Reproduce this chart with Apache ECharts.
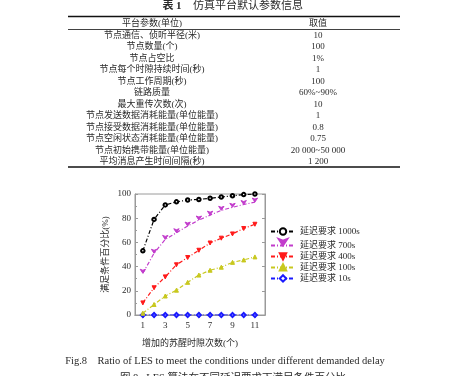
<!DOCTYPE html>
<html>
<head>
<meta charset="utf-8">
<script src="https://cdn.jsdelivr.net/npm/echarts@6/dist/echarts.min.js"></script>
<style>
html,body{margin:0;padding:0;background:#fff;}
#c{width:474px;height:376px;}
</style>
</head>
<body>
<div id="c"></div>
<script>
// ---- data ----
const xValues = [1, 2, 3, 4, 5, 6, 7, 8, 9, 10, 11];
const xTickLabels = [1, 3, 5, 7, 9, 11];
const seriesNames = ['延迟要求 1000s', '延迟要求 700s', '延迟要求 400s', '延迟要求 100s', '延迟要求 10s'];
const delay1000 = [53, 79, 91, 93.5, 95, 95.5, 96.5, 97.5, 98.5, 99.5, 100];
const delay700 = [34.5, 51, 62.5, 68, 73.5, 78.5, 82.5, 86.5, 89, 91.3, 93.3];
const delay400 = [10, 22.5, 31.5, 41.5, 47.5, 53.5, 59.5, 63.5, 67, 71.5, 75];
const delay100 = [1.5, 8.7, 15.7, 20.5, 27, 33, 37, 39.5, 43.5, 45.5, 48];
const delay10 = [0, 0, 0, 0, 0, 0, 0, 0, 0, 0, 0];
const yTicks = [0, 20, 40, 60, 80, 100];

const tableTitleNo = '表 1';
const tableTitle = '仿真平台默认参数信息';
const tableHeader = ['平台参数(单位)', '取值'];
const paramNames = ['节点通信、侦听半径(米)', '节点数量(个)', '节点占空比', '节点每个时隙持续时间(秒)', '节点工作周期(秒)', '链路质量', '最大重传次数(次)', '节点发送数据消耗能量(单位能量)', '节点接受数据消耗能量(单位能量)', '节点空闲状态消耗能量(单位能量)', '节点初始携带能量(单位能量)', '平均消息产生时间间隔(秒)'];
const paramValues = ['10', '100', '1%', '1', '100', '60%~90%', '10', '1', '0.8', '0.75', '20 000~50 000', '1 200'];
const yAxisTitle = '满足条件百分比(%)';
const xAxisTitle = '增加的苏醒时隙次数(个)';
const captionEn = 'Fig.8    Ratio of LES to meet the conditions under different demanded delay';
const captionZh = '图 8   LES 算法在不同延迟要求下满足条件百分比';

// ---- styles ----
const FONT = '"Liberation Serif", "Noto Sans CJK SC", serif';
const TXT = '#2a2a2a';
const colors = ['#000000', '#c23ccc', '#ff1a1a', '#c8c81e', '#1a1aff'];
const symbols = ['emptyCircle', 'arrow', 'triangle', 'triangle', 'emptyDiamond'];
const rotates = [0, 180, 180, 0, 0];
const sizes = [3.5, 4, 4, 4, 4];
const allData = [delay1000, delay700, delay400, delay100, delay10];

const chart = echarts.init(document.getElementById('c'), null, {renderer: 'canvas'});

const graphics = [];
function txt(t, x, y, size, opts) {
  opts = opts || {};
  graphics.push({
    type: 'text', x: x, y: y, silent: true,
    style: {
      text: t, fontSize: size, fontFamily: FONT, fill: opts.fill || TXT,
      fontWeight: opts.bold ? 'bold' : 'normal',
      align: opts.align || 'center', verticalAlign: opts.va || 'middle'
    }
  });
}
function hline(x1, x2, y, w) {
  graphics.push({type: 'line', silent: true, shape: {x1: x1, y1: y, x2: x2, y2: y}, style: {stroke: '#111', lineWidth: w}});
}

// table
txt(tableTitleNo, 172, 6, 11, {bold: true});
txt(tableTitle, 193, 6, 11, {align: 'left'});
hline(68, 400, 16.5, 1.6);
txt(tableHeader[0], 152, 23.5, 9);
txt(tableHeader[1], 318, 23.5, 9);
hline(68, 400, 29.5, 0.8);
paramNames.forEach(function (n, i) {
  const y = 35.3 + i * 11.5;
  txt(n, 152, y, 9);
  txt(paramValues[i], 318, y, 9);
});
hline(68, 400, 167, 1.6);

// axis titles and captions
txt(xAxisTitle, 190, 344, 9);
txt(captionEn, 225, 361, 10.5);
txt(captionZh, 233, 373, 10.5, {va: 'top'});

const series = allData.map(function (d, i) {
  return {
    name: seriesNames[i],
    type: 'line',
    data: xValues.map(function (x, j) { return [x, d[j]]; }),
    symbol: symbols[i],
    symbolRotate: rotates[i],
    symbolSize: sizes[i],
    showAllSymbol: true,
    z: 10 - i,
    lineStyle: {color: colors[i], width: 1.2, type: [4, 2, 1, 2]},
    itemStyle: {color: colors[i], borderColor: colors[i], borderWidth: i === 0 || i === 4 ? 2 : 1},
    emphasis: {disabled: true},
    animation: false
  };
});

const option = {
  animation: false,
  backgroundColor: '#ffffff',
  grid: {left: 135, right: 209, top: 194, bottom: 61, show: true, borderColor: '#9a9a9a', borderWidth: 1},
  legend: {
    orient: 'vertical', left: 270, top: 227, padding: 0,
    itemWidth: 24, itemHeight: 8, itemGap: 2,
    data: seriesNames,
    textStyle: {fontSize: 9, fontFamily: FONT, color: TXT},
    selectedMode: false
  },
  xAxis: [{
    type: 'value', min: 0.3, max: 11.9, position: 'bottom',
    axisLine: {show: true, lineStyle: {color: '#9a9a9a'}},
    axisTick: {show: true, inside: true, length: 3, customValues: xValues, lineStyle: {color: '#9a9a9a'}},
    axisLabel: {customValues: xTickLabels, fontSize: 9, fontFamily: FONT, color: TXT, margin: 6},
    splitLine: {show: false}
  }, {
    type: 'value', min: 0.3, max: 11.9, position: 'top',
    axisLine: {show: true, lineStyle: {color: '#9a9a9a'}},
    axisTick: {show: true, inside: true, length: 3, customValues: xValues, lineStyle: {color: '#9a9a9a'}},
    axisLabel: {show: false},
    splitLine: {show: false}
  }],
  yAxis: [{
    type: 'value', min: 0, max: 100, interval: 20, position: 'left',
    name: yAxisTitle, nameLocation: 'middle', nameGap: 25, nameRotate: 90,
    nameTextStyle: {fontSize: 9, fontFamily: FONT, color: TXT},
    axisLine: {show: true, lineStyle: {color: '#9a9a9a'}},
    axisTick: {show: true, inside: true, length: 3, lineStyle: {color: '#9a9a9a'}},
    minorTick: {show: true, splitNumber: 2, length: 2, lineStyle: {color: '#9a9a9a'}},
    axisLabel: {fontSize: 9, fontFamily: FONT, color: TXT, margin: 4},
    splitLine: {show: false}
  }, {
    type: 'value', min: 0, max: 100, interval: 20, position: 'right',
    axisLine: {show: true, lineStyle: {color: '#9a9a9a'}},
    axisTick: {show: true, inside: true, length: 3, lineStyle: {color: '#9a9a9a'}},
    axisLabel: {show: false},
    splitLine: {show: false}
  }],
  graphic: graphics,
  series: series
};
chart.setOption(option);
</script>
</body>
</html>
